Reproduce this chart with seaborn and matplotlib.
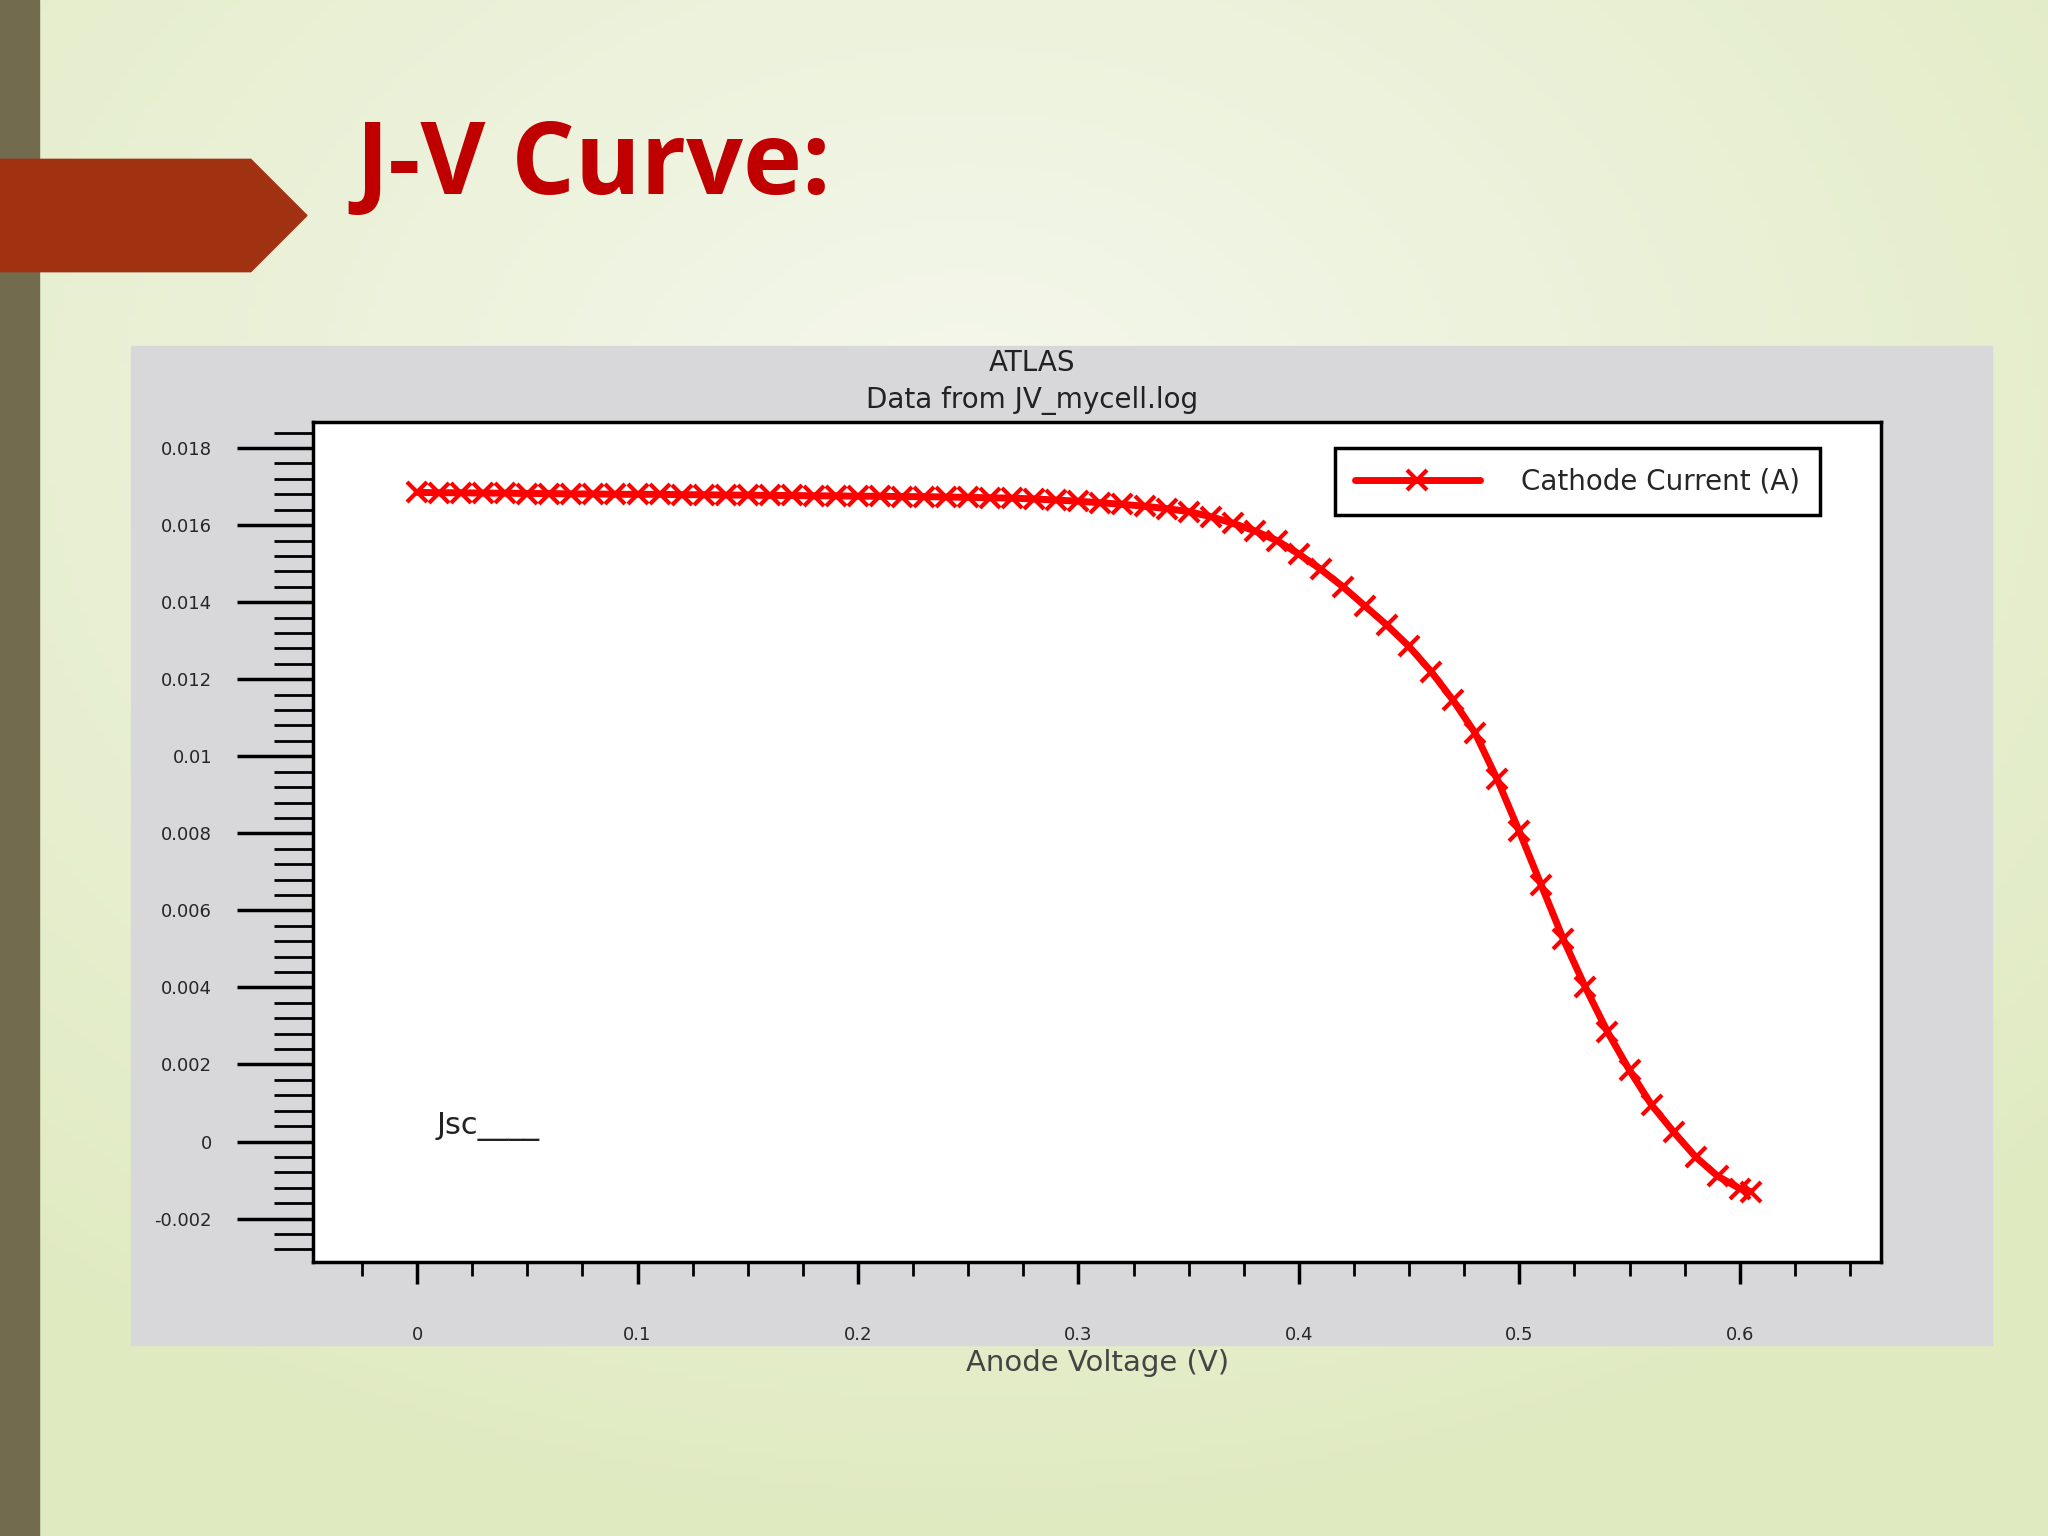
import numpy as np, pandas as pd, matplotlib
matplotlib.use("Agg")
import matplotlib.pyplot as plt
import seaborn as sns
from matplotlib.patches import Polygon, Rectangle
from matplotlib.ticker import MultipleLocator

voltage = [0.00,0.01,0.02,0.03,0.04,0.05,0.06,0.07,0.08,0.09,0.10,0.11,0.12,0.13,0.14,0.15,0.16,0.17,0.18,0.19,0.20,
           0.21,0.22,0.23,0.24,0.25,0.26,0.27,0.28,0.29,0.30,0.31,0.32,0.33,0.34,0.35,0.36,0.37,0.38,0.39,0.40,
           0.41,0.42,0.43,0.44,0.45,0.46,0.47,0.48,0.49,0.50,0.51,0.52,0.53,0.54,0.55,0.56,0.57,0.58,0.59,0.60,0.605]
current = [0.01685,0.01684,0.01684,0.01683,0.01683,0.01682,0.01682,0.01681,0.01681,0.01680,0.01680,0.01680,0.01679,0.01679,0.01678,0.01678,0.01677,0.01677,0.01676,0.01676,0.01675,
           0.01675,0.01674,0.01674,0.01673,0.01672,0.01671,0.01670,0.01668,0.01665,0.01662,0.01658,0.01654,0.01649,0.01643,0.01635,0.01622,0.01605,0.01585,0.01560,0.01525,
           0.01485,0.01440,0.01390,0.01340,0.01285,0.01220,0.01145,0.01060,0.00940,0.00805,0.00665,0.00525,0.00400,0.00285,0.00185,0.00095,0.00025,-0.00040,-0.00090,-0.00122,-0.00130]
df = pd.DataFrame({"Anode Voltage (V)": voltage, "Cathode Current (A)": current})

sns.set_theme(style="white")
fig = plt.figure(figsize=(20.48, 15.36), dpi=100)
bg = fig.add_axes([0, 0, 1, 1], zorder=-10)
img = np.zeros((256, 256, 3))
c1 = np.array([0.96, 0.97, 0.93]); c2 = np.array([0.88, 0.92, 0.76])
ii, jj = np.mgrid[0:256, 0:256]
t = np.clip(np.hypot((ii-70)/256, (jj-120)/256) * 1.4, 0, 1)[..., None]
img = c1 * (1-t) + c2 * t
bg.imshow(img, extent=[0, 1, 0, 1], aspect="auto", origin="upper")
bg.add_patch(Rectangle((0, 0), 30/1568, 1, color="#736b4e"))
bg.add_patch(Polygon([(0, 1-122/1176), (192/1568, 1-122/1176), (235/1568, 1-165/1176),
                      (192/1568, 1-208/1176), (0, 1-208/1176)], color="#a03212"))
bg.add_patch(Rectangle((100/1568, 1-1030/1176), 1425/1568, 765/1176, color="#d8d8da"))
bg.set_xlim(0, 1); bg.set_ylim(0, 1); bg.axis("off")
fig.text(272/1568, 1-128/1176, "J-V Curve:", fontsize=72, fontweight="bold", color="#c00000",
         family="Open Sans", va="center", ha="left")

ax = fig.add_axes([240/1568, 1-966/1176, 1200/1568, 643/1176])
ax.set_facecolor("white")
sns.lineplot(data=df, x="Anode Voltage (V)", y="Cathode Current (A)", ax=ax, color="#ff0000",
             linewidth=5, marker="x", markersize=14, markeredgewidth=3, markeredgecolor="#ff0000",
             label="Cathode Current (A)")
ax.set_xlim(-0.047, 0.664); ax.set_ylim(-0.00312, 0.01868)
ax.xaxis.set_minor_locator(MultipleLocator(0.025))
ax.yaxis.set_minor_locator(MultipleLocator(0.0004))
ax.set_xticks([0,0.1,0.2,0.3,0.4,0.5,0.6]); ax.set_xticklabels(["0","0.1","0.2","0.3","0.4","0.5","0.6"])
yt = [-0.002,0,0.002,0.004,0.006,0.008,0.01,0.012,0.014,0.016,0.018]
ax.set_yticks(yt); ax.set_yticklabels(["-0.002","0","0.002","0.004","0.006","0.008","0.01","0.012","0.014","0.016","0.018"])
ax.tick_params(axis="y", which="major", direction="out", length=55, width=2.5, labelsize=13, pad=18, color="black")
ax.tick_params(axis="y", which="minor", direction="out", length=28, width=2, color="black")
ax.tick_params(axis="x", which="major", direction="out", length=16, width=2.5, labelsize=13, pad=30, color="black")
ax.tick_params(axis="x", which="minor", direction="out", length=10, width=2, color="black")
ax.tick_params(axis="both", which="both", bottom=True, left=True)
for s in ax.spines.values():
    s.set_color("black"); s.set_linewidth(2.5)
ax.set_xlabel("Anode Voltage (V)", fontsize=21, color="#444444", labelpad=4)
ax.set_ylabel("")
ax.text(0.009, 0.0002, "Jsc____", fontsize=22, color="#222222")
fig.text(790/1568, 1-278/1176, "ATLAS", fontsize=20, ha="center", va="center", color="#222222")
fig.text(790/1568, 1-307/1176, "Data from JV_mycell.log", fontsize=20, ha="center", va="center", color="#222222")
leg = ax.legend(loc="upper right", fontsize=20, frameon=True, fancybox=False, edgecolor="black",
                handlelength=4.5, borderpad=0.7, handletextpad=1.5, bbox_to_anchor=(0.97, 0.985))
leg.get_frame().set_linewidth(2.5)
leg.get_frame().set_alpha(1)
fig.savefig("out.png", dpi=100)
